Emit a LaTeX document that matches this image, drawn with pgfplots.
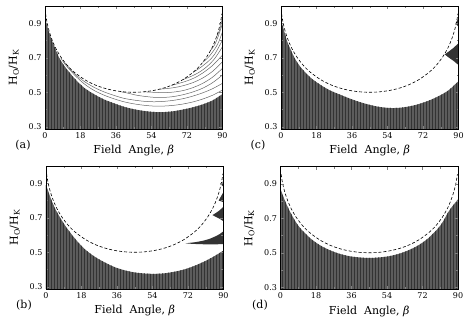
\documentclass[border=0pt]{standalone}
\usepackage{fontspec}
\setmainfont{DejaVu Serif}
\usepackage{pgfplots}
\pgfplotsset{compat=1.18}
\usetikzlibrary{patterns}
\definecolor{shade}{gray}{0.36}
\pgfplotsset{panel/.style={
  scale only axis, width=177.5pt, height=122.9pt,
  xmin=0, xmax=90, ymin=0.287, ymax=1.0,
  xtick={0,18,36,54,72,90}, ytick={0.3,0.5,0.7,0.9},
  minor xtick={9,27,45,63,81}, minor ytick={0.4,0.6,0.8},
  tick align=inside, major tick length=3pt, minor tick length=2pt,
  yticklabel style={/pgf/number format/fixed, /pgf/number format/precision=1, /pgf/number format/fixed zerofill},
  /pgf/number format/assume math mode=true,
  ticklabel style={font=\fontsize{8}{9}\selectfont},
  xlabel={Field\ \ Angle, \textit{β}},
  ylabel={H\textsubscript{O}/H\textsubscript{K}},
  label style={font=\fontsize{11}{12}\selectfont},
  ylabel style={yshift=3pt},
  axis line style={line width=0.7pt},
  anchor=south west, clip mode=individual, axis on top,
},
dash/.style={black, line width=0.6pt, dash pattern=on 3pt off 2pt, smooth},
shadefill/.style={fill=shade, draw=none, smooth},
tex/.style={pattern=vertical lines, pattern color=black!80, draw=none, smooth},
arc/.style={black!60, line width=0.5pt, smooth},
crescent/.style={fill=black!80, draw=none},
}
\begin{document}
\begin{tikzpicture}[x=1pt,y=1pt]
\path[use as bounding box] (0,0) rectangle (474,321);
% ---------------- (a)
\begin{axis}[panel, at={(45pt,192pt)}]
\addplot[shadefill] coordinates {(0,0.93)(1,0.89)(2,0.85)(3.5,0.80)(5,0.76)(7,0.705)(10,0.65)(15,0.58)(20,0.525)(25,0.488)(30,0.458)(35,0.436)(40,0.416)(45,0.402)(50,0.392)(55,0.386)(60,0.385)(65,0.39)(70,0.40)(75,0.413)(80,0.43)(85,0.453)(90,0.49)} \closedcycle;
\addplot[tex] coordinates {(0,0.93)(1,0.89)(2,0.85)(3.5,0.80)(5,0.76)(7,0.705)(10,0.65)(15,0.58)(20,0.525)(25,0.488)(30,0.458)(35,0.436)(40,0.416)(45,0.402)(50,0.392)(55,0.386)(60,0.385)(65,0.39)(70,0.40)(75,0.413)(80,0.43)(85,0.453)(90,0.49)} \closedcycle;
\addplot[arc] coordinates {(8,0.70)(10,0.665)(15,0.60)(20,0.548)(25,0.51)(30,0.483)(35,0.462)(40,0.445)(45,0.433)(50,0.425)(55,0.420)(60,0.420)(65,0.424)(70,0.432)(75,0.444)(80,0.461)(85,0.483)(90,0.513)};
\addplot[arc] coordinates {(10,0.672)(15,0.608)(20,0.562)(25,0.528)(30,0.502)(35,0.482)(40,0.465)(45,0.455)(50,0.448)(55,0.445)(60,0.447)(65,0.453)(70,0.463)(75,0.478)(80,0.497)(85,0.521)(90,0.552)};
\addplot[arc] coordinates {(38,0.504)(42,0.495)(46,0.484)(50,0.477)(55,0.471)(60,0.470)(65,0.475)(70,0.486)(75,0.502)(80,0.524)(85,0.556)(90,0.600)};
\addplot[arc] coordinates {(50,0.5026)(55,0.500)(60,0.498)(65,0.501)(70,0.51)(75,0.527)(80,0.552)(85,0.588)(90,0.639)};
\addplot[arc] coordinates {(58,0.518)(62,0.522)(66,0.528)(70,0.538)(75,0.556)(80,0.583)(85,0.622)(90,0.677)};
\addplot[arc] coordinates {(64,0.540)(68,0.552)(72,0.566)(76,0.585)(80,0.612)(85,0.656)(90,0.716)};
\addplot[arc] coordinates {(70,0.574)(74,0.592)(78,0.615)(82,0.648)(86,0.695)(90,0.764)};
\addplot[arc] coordinates {(75,0.615)(79,0.645)(83,0.682)(86,0.72)(90,0.803)};
\addplot[arc] coordinates {(80,0.674)(83,0.705)(86,0.75)(88,0.79)(90,0.851)};
\addplot[arc] coordinates {(84,0.744)(86,0.775)(88,0.83)(90,0.90)};
\addplot[arc] coordinates {(87,0.823)(88,0.845)(89,0.88)(90,0.94)};
\addplot[dash] coordinates {(0.3,0.956)(1,0.907)(2,0.859)(3,0.823)(4,0.7925)(5,0.766)(6,0.7437)(7,0.7235)(8,0.7053)(10,0.674)(12,0.6473)(15,0.615)(20,0.574)(25,0.5445)(30,0.524)(35,0.5104)(40,0.5026)(45,0.5)(50,0.5026)(55,0.5104)(60,0.524)(65,0.5445)(70,0.574)(75,0.615)(78,0.6473)(80,0.674)(82,0.7053)(83,0.7235)(84,0.7437)(85,0.766)(86,0.7925)(87,0.823)(88,0.859)(89,0.907)(89.7,0.956)};
\end{axis}
% ---------------- (c)
\begin{axis}[panel, at={(281pt,192pt)}]
\addplot[shadefill] coordinates {(0,0.92)(1.5,0.86)(3,0.80)(5,0.745)(7,0.697)(10,0.645)(15,0.585)(20,0.543)(25,0.51)(30,0.486)(35,0.463)(40,0.443)(45,0.427)(50,0.415)(55,0.409)(60,0.41)(65,0.418)(70,0.432)(75,0.452)(80,0.478)(85,0.512)(90,0.565)} \closedcycle;
\addplot[tex] coordinates {(0,0.92)(1.5,0.86)(3,0.80)(5,0.745)(7,0.697)(10,0.645)(15,0.585)(20,0.543)(25,0.51)(30,0.486)(35,0.463)(40,0.443)(45,0.427)(50,0.415)(55,0.409)(60,0.41)(65,0.418)(70,0.432)(75,0.452)(80,0.478)(85,0.512)(90,0.565)} \closedcycle;
\addplot[crescent] coordinates {(83,0.720)(85,0.736)(87.5,0.758)(90,0.785)(90,0.658)(87.5,0.682)(85,0.702)} -- cycle;
\addplot[crescent] coordinates {(88.5,0.90)(90,0.93)(90,0.88)} -- cycle;
\addplot[dash] coordinates {(0.3,0.956)(1,0.907)(2,0.859)(3,0.823)(4,0.7925)(5,0.766)(6,0.7437)(7,0.7235)(8,0.7053)(10,0.674)(12,0.6473)(15,0.615)(20,0.574)(25,0.5445)(30,0.524)(35,0.5104)(40,0.5026)(45,0.5)(50,0.5026)(55,0.5104)(60,0.524)(65,0.5445)(70,0.574)(75,0.615)(78,0.6473)(80,0.674)(82,0.7053)(83,0.7235)(84,0.7437)(85,0.766)(86,0.7925)(87,0.823)(88,0.859)(89,0.907)(89.7,0.956)};
\end{axis}
% ---------------- (b)
\begin{axis}[panel, at={(46pt,32pt)}]
\addplot[shadefill] coordinates {(0,0.89)(1,0.86)(2.5,0.81)(5,0.745)(7.5,0.695)(10,0.65)(15,0.575)(20,0.515)(25,0.472)(30,0.44)(35,0.413)(40,0.395)(45,0.383)(50,0.377)(55,0.375)(60,0.378)(65,0.387)(70,0.40)(75,0.42)(80,0.445)(85,0.475)(90,0.51)} \closedcycle;
\addplot[tex] coordinates {(0,0.89)(1,0.86)(2.5,0.81)(5,0.745)(7.5,0.695)(10,0.65)(15,0.575)(20,0.515)(25,0.472)(30,0.44)(35,0.413)(40,0.395)(45,0.383)(50,0.377)(55,0.375)(60,0.378)(65,0.387)(70,0.40)(75,0.42)(80,0.445)(85,0.475)(90,0.51)} \closedcycle;
\addplot[crescent] coordinates {(70.7,0.552)(73,0.555)(76,0.559)(80,0.568)(83,0.578)(86,0.593)(88,0.605)(90,0.622)(90,0.548)(86,0.546)(82,0.546)(78,0.547)(74,0.549)} -- cycle;
\addplot[crescent] coordinates {(84.4,0.716)(86,0.727)(88,0.743)(90,0.765)(90,0.68)(88,0.695)(86,0.706)} -- cycle;
\addplot[crescent] coordinates {(87.5,0.80)(89,0.83)(90,0.85)(90,0.79)(89,0.795)} -- cycle;
\addplot[crescent] coordinates {(89,0.89)(90,0.92)(90,0.88)} -- cycle;
\addplot[dash] coordinates {(0.3,0.956)(1,0.907)(2,0.859)(3,0.823)(4,0.7925)(5,0.766)(6,0.7437)(7,0.7235)(8,0.7053)(10,0.674)(12,0.6473)(15,0.615)(20,0.574)(25,0.5445)(30,0.524)(35,0.5104)(40,0.5026)(45,0.5)(50,0.5026)(55,0.5104)(60,0.524)(65,0.5445)(70,0.574)(75,0.615)(78,0.6473)(80,0.674)(82,0.7053)(83,0.7235)(84,0.7437)(85,0.766)(86,0.7925)(87,0.823)(88,0.859)(89,0.907)(89.7,0.956)};
\end{axis}
% ---------------- (d)
\begin{axis}[panel, at={(280.5pt,31.5pt)}]
\addplot[shadefill] coordinates {(0,0.87)(1,0.84)(2.5,0.795)(5,0.735)(7.5,0.683)(10,0.643)(15,0.585)(20,0.544)(25,0.515)(30,0.494)(35,0.48)(40,0.473)(45,0.47)(50,0.473)(55,0.48)(60,0.494)(65,0.515)(70,0.544)(75,0.585)(80,0.643)(82.5,0.683)(85,0.735)(87.5,0.775)(90,0.81)} \closedcycle;
\addplot[tex] coordinates {(0,0.87)(1,0.84)(2.5,0.795)(5,0.735)(7.5,0.683)(10,0.643)(15,0.585)(20,0.544)(25,0.515)(30,0.494)(35,0.48)(40,0.473)(45,0.47)(50,0.473)(55,0.48)(60,0.494)(65,0.515)(70,0.544)(75,0.585)(80,0.643)(82.5,0.683)(85,0.735)(87.5,0.775)(90,0.81)} \closedcycle;
\addplot[dash] coordinates {(0.3,0.956)(1,0.907)(2,0.859)(3,0.823)(4,0.7925)(5,0.766)(6,0.7437)(7,0.7235)(8,0.7053)(10,0.674)(12,0.6473)(15,0.615)(20,0.574)(25,0.5445)(30,0.524)(35,0.5104)(40,0.5026)(45,0.5)(50,0.5026)(55,0.5104)(60,0.524)(65,0.5445)(70,0.574)(75,0.615)(78,0.6473)(80,0.674)(82,0.7053)(83,0.7235)(84,0.7437)(85,0.766)(86,0.7925)(87,0.823)(88,0.859)(89,0.907)(89.7,0.956)};
\end{axis}
% panel letters
\node[font=\fontsize{11}{12}\selectfont] at (23,176) {(a)};
\node[font=\fontsize{11}{12}\selectfont] at (258,176) {(c)};
\node[font=\fontsize{11}{12}\selectfont] at (24,16) {(b)};
\node[font=\fontsize{11}{12}\selectfont] at (260,16) {(d)};
\end{tikzpicture}
\end{document}
